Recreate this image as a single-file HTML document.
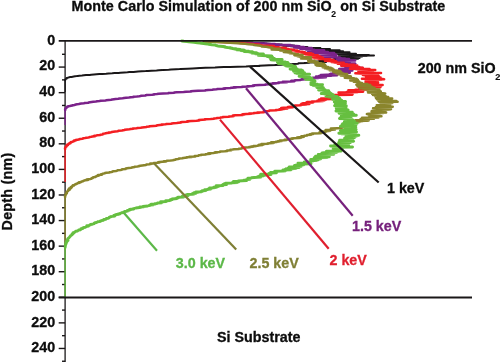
<!DOCTYPE html>
<html><head><meta charset="utf-8"><title>Monte Carlo Simulation</title>
<style>
html,body{margin:0;padding:0;background:#fff;}
body{width:500px;height:362px;overflow:hidden;}
svg{display:block;}
text{font-family:"Liberation Sans",Arial,Helvetica,sans-serif;font-weight:bold;font-size:14.3px;fill:#0d0d0d;stroke:#0d0d0d;stroke-width:0.3px;}
.sub{font-size:8.6px;stroke-width:0.1px;}
</style></head><body>
<svg width="500" height="362" viewBox="0 0 500 362">
<rect width="500" height="362" fill="#fff"/>
<text x="71.6" y="10.6" letter-spacing="0.03">Monte Carlo Simulation of 200 nm SiO</text>
<text x="331.3" y="16.8" class="sub">2</text>
<text x="445.2" y="10.6" text-anchor="end">on Si Substrate</text>
<g stroke="#1a1718" stroke-width="1.4">
<line x1="62" x2="65.1" y1="54.29" y2="54.29"/>
<line x1="58.7" x2="65.1" y1="67.08" y2="67.08"/>
<line x1="62" x2="65.1" y1="79.87" y2="79.87"/>
<line x1="58.7" x2="65.1" y1="92.66" y2="92.66"/>
<line x1="62" x2="65.1" y1="105.45" y2="105.45"/>
<line x1="58.7" x2="65.1" y1="118.24" y2="118.24"/>
<line x1="62" x2="65.1" y1="131.03" y2="131.03"/>
<line x1="58.7" x2="65.1" y1="143.82" y2="143.82"/>
<line x1="62" x2="65.1" y1="156.61" y2="156.61"/>
<line x1="58.7" x2="65.1" y1="169.40" y2="169.40"/>
<line x1="62" x2="65.1" y1="182.19" y2="182.19"/>
<line x1="58.7" x2="65.1" y1="194.98" y2="194.98"/>
<line x1="62" x2="65.1" y1="207.77" y2="207.77"/>
<line x1="58.7" x2="65.1" y1="220.56" y2="220.56"/>
<line x1="62" x2="65.1" y1="233.35" y2="233.35"/>
<line x1="58.7" x2="65.1" y1="246.14" y2="246.14"/>
<line x1="62" x2="65.1" y1="258.93" y2="258.93"/>
<line x1="58.7" x2="65.1" y1="271.72" y2="271.72"/>
<line x1="62" x2="65.1" y1="284.51" y2="284.51"/>
<line x1="58.7" x2="65.1" y1="297.30" y2="297.30"/>
<line x1="62" x2="65.1" y1="310.09" y2="310.09"/>
<line x1="58.7" x2="65.1" y1="322.88" y2="322.88"/>
<line x1="62" x2="65.1" y1="335.67" y2="335.67"/>
<line x1="58.7" x2="65.1" y1="348.46" y2="348.46"/>
<line x1="62" x2="65.1" y1="361.25" y2="361.25"/>
</g>
<g>
<text x="55.1" y="44.70" text-anchor="end">0</text>
<text x="55.1" y="70.34" text-anchor="end">20</text>
<text x="55.1" y="95.98" text-anchor="end">40</text>
<text x="55.1" y="121.62" text-anchor="end">60</text>
<text x="55.1" y="147.26" text-anchor="end">80</text>
<text x="55.1" y="172.90" text-anchor="end">100</text>
<text x="55.1" y="198.54" text-anchor="end">120</text>
<text x="55.1" y="224.18" text-anchor="end">140</text>
<text x="55.1" y="249.82" text-anchor="end">160</text>
<text x="55.1" y="275.46" text-anchor="end">180</text>
<text x="55.1" y="301.10" text-anchor="end">200</text>
<text x="55.1" y="326.74" text-anchor="end">220</text>
<text x="55.1" y="352.38" text-anchor="end">240</text>
</g>
<text transform="translate(12.3,230.4) rotate(-90)" textLength="77.6" lengthAdjust="spacing">Depth (nm)</text>
<line x1="65.1" x2="65.1" y1="40.9" y2="362" stroke="#1a1718" stroke-width="1.3"/>
<line x1="65.1" x2="65.1" y1="80.00" y2="91.90" stroke="#1a1718" stroke-width="1.4"/>
<polyline points="203.6,41.50 220.1,41.70 231.1,41.90 233.5,42.10 241.1,42.30 252.7,42.50 248.7,42.70 253.1,42.90 263.4,43.10 264.7,43.30 266.8,43.50 269.3,43.70 271.4,43.90 271.2,44.10 273.0,44.30 281.9,44.50 280.9,44.70 284.8,44.90 285.7,45.10 287.3,45.30 294.2,45.50 283.1,45.70 294.5,45.90 293.7,46.10 290.7,46.30 299.6,46.50 294.1,46.70 301.6,46.90 307.3,47.10 299.7,47.30 307.8,47.50 305.6,47.70 303.8,47.90 320.4,48.10 312.6,48.30 312.6,48.50 321.2,48.70 314.4,48.90 330.0,49.10 313.7,49.30 312.2,49.50 323.4,49.70 324.4,49.90 326.6,50.10 339.7,50.30 334.0,50.50 329.5,50.70 320.1,50.90 327.7,51.10 343.1,51.30 341.0,51.50 341.7,51.70 322.9,51.90 328.0,52.10 349.6,52.30 345.7,52.50 334.5,52.70 341.2,52.90 347.8,53.10 332.4,53.30 335.1,53.50 356.0,53.70 348.3,53.90 331.6,54.10 352.3,54.30 343.7,54.50 338.5,54.70 361.1,54.90 369.0,55.10 350.0,55.30 374.0,55.50 348.0,55.70 367.0,55.90 338.8,56.10 346.5,56.30 362.1,56.50 352.1,56.70 358.4,56.90 343.3,57.10 355.0,57.30 347.2,57.50 351.1,57.70 359.6,57.90 338.6,58.10 346.4,58.30 339.1,58.50 358.1,58.70 334.4,58.90 334.1,59.10 339.1,59.30 333.3,59.50 347.5,59.70 346.5,59.90 338.1,60.10 336.4,60.30 339.9,60.50 336.9,60.70 337.1,60.90 319.1,61.10 326.5,61.30 316.2,61.50 314.6,61.70 326.2,61.90 324.5,62.10 318.4,62.30 308.4,62.50 309.4,62.70 304.4,62.90 307.2,63.10 298.4,63.30 298.1,63.50 298.0,63.70 292.7,63.90 296.3,64.10 288.1,64.30 279.9,64.50 282.4,64.70 275.1,64.90 276.7,65.10 269.0,65.30 264.1,65.50 259.1,65.70 259.8,65.90 255.1,66.10 249.2,66.30 246.0,66.50 237.6,66.70 230.0,66.90 224.0,67.10 218.5,67.30 215.0,67.50 205.4,67.70 200.7,67.90 199.9,68.10 196.3,68.30 192.5,68.50 187.4,68.70 180.8,68.90 179.8,69.10 176.2,69.30 171.0,69.50 168.7,69.70 163.2,69.90 162.4,70.10 158.9,70.30 156.5,70.50 151.5,70.70 147.9,70.90 145.8,71.10 141.6,71.30 138.0,71.50 135.9,71.70 133.5,71.90 129.6,72.10 127.4,72.30 124.4,72.50 120.3,72.70 118.5,72.90 114.7,73.10 112.2,73.30 108.5,73.50 106.1,73.70 102.4,73.90 99.4,74.10 96.5,74.30 94.0,74.50 91.1,74.70 89.8,74.90 86.0,75.10 83.9,75.30 82.0,75.50 79.3,75.70 77.8,75.90 76.8,76.10 75.1,76.30 73.8,76.50 72.7,76.70 71.6,76.90 69.8,77.10 69.2,77.30 68.2,77.50 67.9,77.70 66.9,77.90 66.6,78.10 67.1,78.30 66.3,78.50 66.3,78.70 65.8,78.90 65.7,79.10 65.5,79.30 65.3,79.50 65.3,79.70 65.2,79.90 65.2,80.10 65.2,80.30" fill="none" stroke="#1a1718" stroke-width="2.0" stroke-linejoin="round" stroke-linecap="round"/>
<line x1="65.1" x2="65.1" y1="109.70" y2="125.00" stroke="#7b228a" stroke-width="1.4"/>
<polyline points="205.0,41.50 217.3,41.75 228.5,42.00 236.3,42.25 242.5,42.50 247.2,42.75 248.4,43.00 258.7,43.25 265.5,43.50 266.8,43.75 274.4,44.00 275.9,44.25 279.2,44.50 273.8,44.75 290.3,45.00 281.9,45.25 292.0,45.50 287.5,45.75 296.4,46.00 299.4,46.25 299.5,46.50 299.3,46.75 304.0,47.00 295.9,47.25 294.1,47.50 299.6,47.75 311.7,48.00 304.3,48.25 300.4,48.50 300.3,48.75 305.2,49.00 311.7,49.25 306.0,49.50 314.2,49.75 309.3,50.00 324.1,50.25 312.2,50.50 307.7,50.75 312.7,51.00 324.3,51.25 313.3,51.50 311.6,51.75 327.8,52.00 315.8,52.25 326.9,52.50 310.9,52.75 334.1,53.00 314.9,53.25 316.9,53.50 328.4,53.75 334.7,54.00 334.4,54.25 331.1,54.50 336.3,54.75 331.9,55.00 328.3,55.25 318.0,55.50 336.1,55.75 324.5,56.00 324.2,56.25 331.0,56.50 326.7,56.75 325.0,57.00 329.8,57.25 339.8,57.50 337.4,57.75 339.1,58.00 341.6,58.25 345.1,58.50 344.0,58.75 349.0,59.00 337.8,59.25 338.9,59.50 336.8,59.75 349.0,60.00 337.7,60.25 355.1,60.50 343.4,60.75 333.8,61.00 346.7,61.25 341.0,61.50 339.4,61.75 342.1,62.00 344.7,62.25 346.0,62.50 349.8,62.75 346.2,63.00 346.0,63.25 354.7,63.50 355.3,63.75 345.1,64.00 341.8,64.25 346.8,64.50 346.0,64.75 341.3,65.00 342.9,65.25 348.9,65.50 351.0,65.75 350.6,66.00 352.2,66.25 350.1,66.50 348.1,66.75 345.4,67.00 347.9,67.25 350.2,67.50 356.1,67.75 362.5,68.00 354.6,68.25 346.9,68.50 342.4,68.75 339.2,69.00 351.7,69.25 347.7,69.50 351.6,69.75 344.3,70.00 344.9,70.25 352.3,70.50 349.8,70.75 346.4,71.00 347.5,71.25 333.5,71.50 337.8,71.75 339.3,72.00 340.5,72.25 348.2,72.50 349.8,72.75 341.7,73.00 343.0,73.25 338.6,73.50 330.8,73.75 337.0,74.00 329.7,74.25 333.0,74.50 326.9,74.75 320.8,75.00 337.0,75.25 330.4,75.50 331.4,75.75 319.0,76.00 322.6,76.25 316.1,76.50 320.7,76.75 320.8,77.00 325.9,77.25 322.2,77.50 312.8,77.75 318.2,78.00 307.5,78.25 311.9,78.50 302.3,78.75 308.1,79.00 305.4,79.25 302.8,79.50 300.5,79.75 300.2,80.00 295.4,80.25 294.0,80.50 291.7,80.75 291.1,81.00 294.5,81.25 290.7,81.50 282.8,81.75 287.6,82.00 286.1,82.25 278.4,82.50 278.1,82.75 279.0,83.00 272.8,83.25 276.2,83.50 270.7,83.75 271.4,84.00 268.9,84.25 265.5,84.50 265.5,84.75 259.8,85.00 254.9,85.25 252.8,85.50 254.1,85.75 252.9,86.00 247.3,86.25 249.1,86.50 242.4,86.75 241.8,87.00 233.7,87.25 236.4,87.50 231.8,87.75 230.1,88.00 225.4,88.25 223.2,88.50 225.0,88.75 217.5,89.00 216.6,89.25 213.5,89.50 212.3,89.75 208.2,90.00 205.7,90.25 205.1,90.50 198.1,90.75 193.8,91.00 190.7,91.25 191.1,91.50 186.1,91.75 183.6,92.00 176.8,92.25 174.1,92.50 174.4,92.75 168.7,93.00 168.1,93.25 163.1,93.50 158.8,93.75 156.9,94.00 153.8,94.25 154.2,94.50 152.0,94.75 146.3,95.00 145.9,95.25 145.4,95.50 141.3,95.75 140.4,96.00 139.2,96.25 136.8,96.50 133.2,96.75 133.8,97.00 130.9,97.25 128.9,97.50 126.1,97.75 124.1,98.00 122.6,98.25 119.7,98.50 118.2,98.75 115.6,99.00 114.0,99.25 112.2,99.50 111.1,99.75 108.7,100.00 106.1,100.25 105.7,100.50 100.6,100.75 99.6,101.00 97.2,101.25 95.9,101.50 93.3,101.75 91.6,102.00 90.0,102.25 88.6,102.50 88.3,102.75 84.5,103.00 84.1,103.25 81.3,103.50 79.9,103.75 78.9,104.00 77.1,104.25 75.9,104.50 75.0,104.75 74.6,105.00 72.2,105.25 72.6,105.50 70.9,105.75 69.8,106.00 68.0,106.25 68.6,106.50 67.1,106.75 66.8,107.00 66.7,107.25 66.8,107.50 66.2,107.75 66.2,108.00 65.7,108.25 65.6,108.50 65.4,108.75 65.3,109.00 65.2,109.25 65.2,109.50 65.2,109.75 65.2,110.00" fill="none" stroke="#7b228a" stroke-width="2.6" stroke-linejoin="round" stroke-linecap="round"/>
<line x1="65.1" x2="65.1" y1="148.70" y2="182.00" stroke="#f41e22" stroke-width="1.4"/>
<polyline points="204.5,41.50 215.2,41.75 221.8,42.00 227.7,42.25 232.2,42.50 236.5,42.75 241.5,43.00 244.1,43.25 245.3,43.50 249.6,43.75 252.2,44.00 254.7,44.25 259.0,44.50 256.4,44.75 260.2,45.00 261.5,45.25 262.4,45.50 268.6,45.75 274.0,46.00 265.8,46.25 272.7,46.50 272.4,46.75 269.6,47.00 278.8,47.25 275.6,47.50 281.6,47.75 285.9,48.00 277.6,48.25 286.5,48.50 282.6,48.75 288.5,49.00 286.1,49.25 291.4,49.50 293.9,49.75 291.0,50.00 290.2,50.25 297.5,50.50 296.5,50.75 298.1,51.00 299.1,51.25 295.6,51.50 302.5,51.75 298.6,52.00 304.8,52.25 300.5,52.50 302.6,52.75 303.4,53.00 311.2,53.25 304.3,53.50 302.6,53.75 313.1,54.00 305.9,54.25 305.5,54.50 308.6,54.75 307.9,55.00 317.8,55.25 311.7,55.50 313.2,55.75 311.0,56.00 319.6,56.25 314.6,56.50 318.1,56.75 321.3,57.00 309.3,57.25 320.9,57.50 323.0,57.75 320.3,58.00 314.5,58.25 322.7,58.50 318.4,58.75 318.9,59.00 330.2,59.25 329.1,59.50 326.0,59.75 333.6,60.00 332.8,60.25 330.9,60.50 325.0,60.75 328.7,61.00 336.0,61.25 336.4,61.50 331.2,61.75 331.6,62.00 335.7,62.25 334.1,62.50 343.7,62.75 339.4,63.00 341.7,63.25 343.3,63.50 337.8,63.75 344.2,64.00 347.2,64.25 342.8,64.50 354.3,64.75 352.3,65.00 345.5,65.25 357.2,65.50 341.3,65.75 354.3,66.00 350.5,66.25 350.5,66.50 354.3,66.75 359.2,67.00 354.8,67.25 350.7,67.50 362.7,67.75 358.9,68.00 362.7,68.25 354.7,68.50 350.0,68.75 369.5,69.00 355.9,69.25 369.6,69.50 367.5,69.75 375.2,70.00 362.6,70.25 371.9,70.50 358.2,70.75 360.4,71.00 366.6,71.25 360.8,71.50 368.3,71.75 372.8,72.00 361.2,72.25 368.8,72.50 367.2,72.75 381.0,73.00 355.4,73.25 359.6,73.50 371.7,73.75 361.9,74.00 366.7,74.25 377.8,74.50 364.1,74.75 363.0,75.00 365.2,75.25 368.7,75.50 376.2,75.75 378.7,76.00 370.4,76.25 367.8,76.50 366.4,76.75 366.1,77.00 368.9,77.25 380.5,77.50 367.9,77.75 366.4,78.00 377.0,78.25 373.5,78.50 362.0,78.75 382.4,79.00 384.1,79.25 368.6,79.50 381.5,79.75 374.9,80.00 375.5,80.25 376.9,80.50 375.9,80.75 373.9,81.00 365.6,81.25 376.5,81.50 371.1,81.75 370.9,82.00 377.9,82.25 376.7,82.50 378.1,82.75 368.2,83.00 375.3,83.25 365.4,83.50 364.8,83.75 373.8,84.00 370.3,84.25 370.3,84.50 368.2,84.75 382.6,85.00 370.7,85.25 364.4,85.50 378.5,85.75 376.3,86.00 381.0,86.25 373.5,86.50 378.5,86.75 365.9,87.00 380.2,87.25 359.3,87.50 375.7,87.75 368.5,88.00 363.5,88.25 367.5,88.50 362.3,88.75 369.0,89.00 367.5,89.25 364.7,89.50 355.5,89.75 362.0,90.00 348.4,90.25 358.2,90.50 348.9,90.75 358.2,91.00 351.5,91.25 363.1,91.50 363.0,91.75 346.7,92.00 357.5,92.25 338.6,92.50 351.1,92.75 345.3,93.00 342.7,93.25 343.3,93.50 339.9,93.75 339.9,94.00 347.2,94.25 352.5,94.50 352.1,94.75 334.7,95.00 331.3,95.25 332.8,95.50 335.8,95.75 326.9,96.00 331.6,96.25 337.8,96.50 329.1,96.75 335.3,97.00 330.8,97.25 330.1,97.50 330.8,97.75 330.5,98.00 332.0,98.25 321.1,98.50 326.1,98.75 332.2,99.00 322.1,99.25 319.0,99.50 325.9,99.75 319.1,100.00 319.3,100.25 324.5,100.50 317.4,100.75 323.0,101.00 318.3,101.25 311.9,101.50 313.0,101.75 307.2,102.00 313.4,102.25 312.4,102.50 306.0,102.75 307.1,103.00 302.8,103.25 304.2,103.50 301.4,103.75 309.3,104.00 304.4,104.25 306.4,104.50 300.6,104.75 301.5,105.00 300.1,105.25 295.0,105.50 295.1,105.75 295.5,106.00 293.7,106.25 293.6,106.50 290.6,106.75 287.8,107.00 292.8,107.25 289.0,107.50 283.5,107.75 281.2,108.00 283.0,108.25 287.3,108.50 283.4,108.75 283.8,109.00 279.3,109.25 282.4,109.50 280.0,109.75 275.7,110.00 276.4,110.25 269.5,110.50 269.3,110.75 268.7,111.00 263.8,111.25 264.8,111.50 263.7,111.75 264.3,112.00 263.9,112.25 257.4,112.50 259.5,112.75 254.0,113.00 254.3,113.25 249.2,113.50 251.5,113.75 246.4,114.00 242.6,114.25 244.8,114.50 241.5,114.75 242.9,115.00 235.2,115.25 232.8,115.50 234.0,115.75 234.0,116.00 232.6,116.25 229.2,116.50 228.7,116.75 222.9,117.00 223.0,117.25 220.8,117.50 220.1,117.75 217.4,118.00 216.1,118.25 213.8,118.50 214.0,118.75 210.6,119.00 204.9,119.25 205.6,119.50 202.5,119.75 198.7,120.00 199.8,120.25 198.9,120.50 196.5,120.75 191.9,121.00 187.1,121.25 188.8,121.50 186.9,121.75 182.2,122.00 180.5,122.25 181.4,122.50 178.7,122.75 176.8,123.00 173.5,123.25 171.9,123.50 171.0,123.75 166.5,124.00 165.6,124.25 161.4,124.50 162.9,124.75 159.9,125.00 157.8,125.25 156.5,125.50 156.6,125.75 153.5,126.00 149.5,126.25 149.5,126.50 146.7,126.75 146.6,127.00 144.3,127.25 142.2,127.50 140.7,127.75 137.2,128.00 136.8,128.25 132.7,128.50 133.4,128.75 130.6,129.00 129.5,129.25 127.2,129.50 125.0,129.75 124.4,130.00 123.2,130.25 122.0,130.50 118.8,130.75 118.1,131.00 117.7,131.25 115.2,131.50 113.4,131.75 111.9,132.00 111.1,132.25 108.5,132.50 110.1,132.75 107.0,133.00 105.9,133.25 104.7,133.50 103.0,133.75 103.6,134.00 102.6,134.25 102.4,134.50 100.2,134.75 100.2,135.00 97.0,135.25 96.6,135.50 94.8,135.75 93.9,136.00 94.7,136.25 92.5,136.50 91.3,136.75 89.7,137.00 89.5,137.25 88.2,137.50 86.5,137.75 85.0,138.00 83.1,138.25 83.2,138.50 82.1,138.75 80.2,139.00 79.2,139.25 78.9,139.50 77.3,139.75 75.6,140.00 76.5,140.25 74.4,140.50 73.7,140.75 74.6,141.00 73.2,141.25 73.2,141.50 72.4,141.75 71.0,142.00 71.0,142.25 71.4,142.50 70.4,142.75 69.9,143.00 70.3,143.25 68.9,143.50 69.4,143.75 68.6,144.00 68.5,144.25 67.4,144.50 68.1,144.75 68.0,145.00 67.1,145.25 66.6,145.50 66.4,145.75 66.2,146.00 66.3,146.25 66.5,146.50 65.8,146.75 65.8,147.00 65.6,147.25 65.4,147.50 65.3,147.75 65.2,148.00 65.1,148.25 65.1,148.50 65.1,148.75 65.1,149.00" fill="none" stroke="#f41e22" stroke-width="2.6" stroke-linejoin="round" stroke-linecap="round"/>
<line x1="65.1" x2="65.1" y1="196.70" y2="250.00" stroke="#8a852c" stroke-width="1.4"/>
<polyline points="205.5,41.50 211.4,41.75 216.3,42.00 222.2,42.25 226.0,42.50 230.1,42.75 233.9,43.00 238.5,43.25 240.5,43.50 245.3,43.75 246.7,44.00 248.8,44.25 253.4,44.50 253.4,44.75 254.3,45.00 256.2,45.25 258.9,45.50 260.5,45.75 261.4,46.00 261.5,46.25 262.0,46.50 265.4,46.75 268.3,47.00 267.8,47.25 272.2,47.50 271.3,47.75 272.3,48.00 271.2,48.25 274.7,48.50 280.1,48.75 273.5,49.00 275.6,49.25 271.6,49.50 279.3,49.75 283.8,50.00 281.0,50.25 280.3,50.50 285.7,50.75 285.3,51.00 290.7,51.25 284.7,51.50 283.9,51.75 283.8,52.00 287.0,52.25 288.6,52.50 291.6,52.75 290.7,53.00 289.7,53.25 294.3,53.50 294.5,53.75 295.3,54.00 298.4,54.25 296.9,54.50 295.1,54.75 302.6,55.00 294.4,55.25 296.5,55.50 302.3,55.75 302.3,56.00 297.6,56.25 302.5,56.50 298.9,56.75 301.6,57.00 311.0,57.25 307.0,57.50 304.9,57.75 309.0,58.00 306.9,58.25 301.1,58.50 310.3,58.75 307.5,59.00 308.5,59.25 311.0,59.50 308.8,59.75 308.1,60.00 309.8,60.25 310.3,60.50 314.5,60.75 314.6,61.00 312.3,61.25 313.5,61.50 308.4,61.75 317.2,62.00 317.7,62.25 313.9,62.50 317.1,62.75 314.5,63.00 321.3,63.25 321.1,63.50 324.2,63.75 318.4,64.00 317.5,64.25 321.9,64.50 315.6,64.75 325.1,65.00 316.8,65.25 316.5,65.50 319.7,65.75 325.7,66.00 322.1,66.25 325.1,66.50 323.8,66.75 328.2,67.00 322.7,67.25 325.5,67.50 330.7,67.75 328.5,68.00 324.8,68.25 332.4,68.50 327.0,68.75 327.3,69.00 333.4,69.25 330.6,69.50 333.9,69.75 333.0,70.00 329.6,70.25 335.1,70.50 339.8,70.75 333.0,71.00 335.6,71.25 334.6,71.50 341.0,71.75 336.3,72.00 333.4,72.25 341.4,72.50 340.1,72.75 338.7,73.00 336.2,73.25 343.3,73.50 340.1,73.75 347.1,74.00 338.1,74.25 346.6,74.50 342.6,74.75 346.2,75.00 341.7,75.25 340.8,75.50 345.6,75.75 348.5,76.00 350.0,76.25 350.9,76.50 346.1,76.75 346.3,77.00 345.7,77.25 346.1,77.50 344.8,77.75 348.1,78.00 353.9,78.25 353.7,78.50 356.6,78.75 355.9,79.00 350.4,79.25 355.0,79.50 357.8,79.75 350.5,80.00 357.0,80.25 350.3,80.50 355.4,80.75 354.1,81.00 358.8,81.25 355.4,81.50 353.8,81.75 357.8,82.00 358.8,82.25 360.2,82.50 357.3,82.75 362.0,83.00 357.4,83.25 359.4,83.50 357.3,83.75 367.4,84.00 361.8,84.25 361.3,84.50 356.4,84.75 370.2,85.00 363.3,85.25 364.4,85.50 368.1,85.75 367.9,86.00 361.2,86.25 357.5,86.50 372.0,86.75 363.8,87.00 359.6,87.25 371.2,87.50 374.5,87.75 363.7,88.00 359.9,88.25 371.9,88.50 371.2,88.75 364.9,89.00 363.5,89.25 379.2,89.50 366.3,89.75 367.8,90.00 374.0,90.25 379.6,90.50 371.7,90.75 367.7,91.00 379.8,91.25 380.8,91.50 369.5,91.75 378.7,92.00 379.3,92.25 368.1,92.50 378.3,92.75 376.4,93.00 382.5,93.25 385.2,93.50 376.6,93.75 372.2,94.00 377.1,94.25 381.0,94.50 376.8,94.75 373.1,95.00 378.0,95.25 383.0,95.50 385.5,95.75 376.0,96.00 375.2,96.25 376.9,96.50 378.6,96.75 388.1,97.00 376.8,97.25 376.8,97.50 381.8,97.75 376.0,98.00 376.8,98.25 392.1,98.50 386.1,98.75 384.3,99.00 376.9,99.25 381.5,99.50 384.7,99.75 381.6,100.00 387.6,100.25 389.2,100.50 378.3,100.75 396.2,101.00 383.1,101.25 395.6,101.50 397.6,101.75 379.4,102.00 389.3,102.25 384.3,102.50 388.5,102.75 392.3,103.00 384.2,103.25 390.8,103.50 389.9,103.75 383.5,104.00 383.0,104.25 380.6,104.50 383.6,104.75 390.2,105.00 376.8,105.25 387.8,105.50 385.4,105.75 380.0,106.00 383.1,106.25 377.0,106.50 392.7,106.75 376.1,107.00 382.9,107.25 375.6,107.50 390.4,107.75 381.4,108.00 373.1,108.25 376.6,108.50 376.3,108.75 391.0,109.00 390.4,109.25 388.7,109.50 380.7,109.75 379.5,110.00 380.0,110.25 384.1,110.50 379.5,110.75 371.8,111.00 379.1,111.25 371.6,111.50 372.2,111.75 385.4,112.00 380.6,112.25 386.1,112.50 377.2,112.75 383.3,113.00 373.3,113.25 380.3,113.50 369.0,113.75 366.9,114.00 370.2,114.25 372.1,114.50 377.8,114.75 372.9,115.00 368.8,115.25 377.0,115.50 379.5,115.75 375.4,116.00 381.4,116.25 376.5,116.50 378.2,116.75 375.0,117.00 374.5,117.25 378.4,117.50 362.1,117.75 368.8,118.00 372.7,118.25 363.0,118.50 373.9,118.75 360.7,119.00 362.1,119.25 360.3,119.50 362.4,119.75 366.0,120.00 355.5,120.25 368.7,120.50 366.9,120.75 350.2,121.00 362.6,121.25 358.5,121.50 354.7,121.75 359.7,122.00 348.5,122.25 355.6,122.50 351.5,122.75 352.7,123.00 347.1,123.25 352.9,123.50 351.9,123.75 346.9,124.00 348.2,124.25 352.3,124.50 352.2,124.75 344.4,125.00 348.5,125.25 348.6,125.50 353.4,125.75 343.7,126.00 347.8,126.25 343.9,126.50 340.3,126.75 342.5,127.00 341.3,127.25 341.1,127.50 340.9,127.75 341.7,128.00 337.4,128.25 330.9,128.50 330.9,128.75 331.5,129.00 333.4,129.25 335.0,129.50 331.9,129.75 325.7,130.00 325.9,130.25 327.8,130.50 330.5,130.75 328.4,131.00 325.5,131.25 322.2,131.50 325.8,131.75 319.9,132.00 319.6,132.25 322.7,132.50 321.8,132.75 321.4,133.00 320.3,133.25 312.7,133.50 311.5,133.75 313.1,134.00 309.6,134.25 310.7,134.50 311.3,134.75 307.0,135.00 307.0,135.25 307.1,135.50 304.6,135.75 303.7,136.00 301.8,136.25 301.1,136.50 303.9,136.75 302.6,137.00 299.2,137.25 297.0,137.50 301.4,137.75 298.5,138.00 293.4,138.25 291.3,138.50 292.8,138.75 288.9,139.00 287.7,139.25 287.2,139.50 284.5,139.75 286.5,140.00 284.2,140.25 279.8,140.50 281.5,140.75 281.7,141.00 277.6,141.25 279.3,141.50 275.8,141.75 276.8,142.00 271.2,142.25 270.8,142.50 274.1,142.75 273.0,143.00 269.7,143.25 267.3,143.50 268.5,143.75 261.5,144.00 264.2,144.25 263.4,144.50 258.9,144.75 262.7,145.00 260.0,145.25 258.1,145.50 257.6,145.75 253.3,146.00 256.3,146.25 251.3,146.50 253.2,146.75 249.0,147.00 250.3,147.25 244.1,147.50 245.4,147.75 242.9,148.00 241.5,148.25 241.7,148.50 238.7,148.75 239.2,149.00 234.2,149.25 232.5,149.50 230.3,149.75 230.2,150.00 231.3,150.25 226.9,150.50 227.7,150.75 227.5,151.00 224.8,151.25 220.0,151.50 220.4,151.75 219.3,152.00 215.0,152.25 217.7,152.50 214.5,152.75 213.4,153.00 209.3,153.25 208.0,153.50 210.7,153.75 208.0,154.00 205.5,154.25 206.1,154.50 201.2,154.75 201.3,155.00 198.7,155.25 198.9,155.50 198.5,155.75 194.6,156.00 195.6,156.25 195.1,156.50 189.4,156.75 192.0,157.00 186.7,157.25 187.3,157.50 185.2,157.75 183.2,158.00 182.5,158.25 178.8,158.50 179.4,158.75 178.0,159.00 176.2,159.25 175.5,159.50 175.0,159.75 173.8,160.00 172.8,160.25 170.5,160.50 166.7,160.75 166.8,161.00 163.7,161.25 165.9,161.50 162.5,161.75 159.7,162.00 158.0,162.25 159.5,162.50 157.4,162.75 153.7,163.00 155.7,163.25 150.3,163.50 152.1,163.75 150.0,164.00 149.7,164.25 146.3,164.50 146.4,164.75 146.0,165.00 144.0,165.25 142.3,165.50 140.3,165.75 139.2,166.00 138.7,166.25 137.3,166.50 134.5,166.75 134.6,167.00 133.1,167.25 131.9,167.50 131.1,167.75 128.8,168.00 127.2,168.25 125.7,168.50 126.0,168.75 125.5,169.00 122.3,169.25 122.0,169.50 121.5,169.75 120.6,170.00 117.6,170.25 117.2,170.50 117.0,170.75 115.9,171.00 113.4,171.25 112.5,171.50 112.4,171.75 111.5,172.00 109.4,172.25 109.6,172.50 106.3,172.75 105.2,173.00 104.6,173.25 103.7,173.50 102.5,173.75 102.5,174.00 101.0,174.25 102.1,174.50 101.7,174.75 98.0,175.00 98.3,175.25 99.2,175.50 98.0,175.75 96.9,176.00 96.3,176.25 96.1,176.50 95.3,176.75 95.6,177.00 93.3,177.25 93.1,177.50 92.6,177.75 92.9,178.00 91.6,178.25 91.9,178.50 91.1,178.75 90.2,179.00 88.3,179.25 86.6,179.50 88.2,179.75 87.5,180.00 85.4,180.25 84.1,180.50 83.9,180.75 83.2,181.00 82.9,181.25 81.9,181.50 81.2,181.75 81.2,182.00 79.3,182.25 78.6,182.50 79.8,182.75 78.4,183.00 77.5,183.25 77.1,183.50 76.8,183.75 76.1,184.00 75.6,184.25 74.8,184.50 74.8,184.75 74.2,185.00 72.9,185.25 74.0,185.50 72.5,185.75 72.5,186.00 72.2,186.25 71.9,186.50 72.1,186.75 70.9,187.00 71.0,187.25 70.6,187.50 70.5,187.75 71.2,188.00 70.0,188.25 69.2,188.50 70.1,188.75 69.3,189.00 70.0,189.25 68.3,189.50 69.6,189.75 68.7,190.00 68.3,190.25 68.3,190.50 68.3,190.75 68.0,191.00 67.6,191.25 67.3,191.50 67.1,191.75 66.8,192.00 66.5,192.25 66.7,192.50 66.9,192.75 66.7,193.00 66.8,193.25 66.1,193.50 66.1,193.75 65.8,194.00 66.1,194.25 65.7,194.50 65.6,194.75 65.4,195.00 65.4,195.25 65.4,195.50 65.2,195.75 65.2,196.00 65.1,196.25 65.1,196.50 65.1,196.75 65.1,197.00" fill="none" stroke="#8a852c" stroke-width="2.6" stroke-linejoin="round" stroke-linecap="round"/>
<line x1="65.1" x2="65.1" y1="247.20" y2="297.00" stroke="#66bf40" stroke-width="1.4"/>
<polyline points="181.8,41.00 183.9,41.25 187.2,41.50 188.6,41.75 191.4,42.00 194.0,42.25 195.7,42.50 197.4,42.75 200.0,43.00 201.5,43.25 203.8,43.50 205.3,43.75 207.7,44.00 208.5,44.25 210.4,44.50 211.9,44.75 215.5,45.00 214.7,45.25 215.8,45.50 217.5,45.75 217.8,46.00 220.2,46.25 223.1,46.50 225.1,46.75 224.3,47.00 225.9,47.25 227.5,47.50 230.7,47.75 229.6,48.00 232.4,48.25 232.0,48.50 236.1,48.75 234.1,49.00 237.6,49.25 240.4,49.50 236.5,49.75 242.8,50.00 244.3,50.25 240.6,50.50 245.1,50.75 243.9,51.00 248.8,51.25 244.0,51.50 252.5,51.75 249.0,52.00 252.6,52.25 254.1,52.50 256.4,52.75 251.6,53.00 257.6,53.25 255.2,53.50 255.1,53.75 263.5,54.00 262.0,54.25 260.1,54.50 263.4,54.75 260.4,55.00 258.3,55.25 262.6,55.50 266.5,55.75 271.8,56.00 269.5,56.25 267.3,56.50 272.3,56.75 272.6,57.00 271.4,57.25 272.6,57.50 273.1,57.75 269.9,58.00 270.0,58.25 274.5,58.50 274.3,58.75 275.1,59.00 275.0,59.25 282.2,59.50 270.9,59.75 273.3,60.00 280.7,60.25 280.4,60.50 281.8,60.75 281.1,61.00 278.5,61.25 278.8,61.50 282.6,61.75 285.5,62.00 277.3,62.25 287.9,62.50 280.0,62.75 283.3,63.00 288.5,63.25 278.2,63.50 286.2,63.75 284.7,64.00 286.6,64.25 289.1,64.50 283.8,64.75 286.4,65.00 290.6,65.25 292.2,65.50 285.3,65.75 293.4,66.00 286.6,66.25 295.6,66.50 295.4,66.75 292.6,67.00 292.0,67.25 294.4,67.50 293.3,67.75 295.5,68.00 294.5,68.25 296.3,68.50 297.2,68.75 290.0,69.00 292.4,69.25 295.4,69.50 295.9,69.75 301.6,70.00 293.2,70.25 296.4,70.50 302.9,70.75 296.5,71.00 293.5,71.25 298.4,71.50 302.5,71.75 301.9,72.00 300.8,72.25 299.4,72.50 304.6,72.75 295.0,73.00 296.2,73.25 303.2,73.50 303.9,73.75 303.5,74.00 309.7,74.25 302.1,74.50 301.0,74.75 300.6,75.00 306.1,75.25 305.7,75.50 306.7,75.75 306.2,76.00 299.0,76.25 303.3,76.50 304.6,76.75 303.6,77.00 303.4,77.25 310.3,77.50 305.1,77.75 309.4,78.00 312.0,78.25 304.9,78.50 306.6,78.75 306.9,79.00 305.6,79.25 310.3,79.50 309.9,79.75 312.5,80.00 314.4,80.25 311.1,80.50 313.3,80.75 313.7,81.00 315.1,81.25 314.1,81.50 313.4,81.75 313.3,82.00 312.7,82.25 312.5,82.50 313.6,82.75 310.8,83.00 314.6,83.25 312.0,83.50 314.0,83.75 313.8,84.00 317.5,84.25 310.8,84.50 322.6,84.75 312.9,85.00 319.1,85.25 312.9,85.50 317.7,85.75 321.9,86.00 315.6,86.25 316.3,86.50 322.3,86.75 318.3,87.00 317.2,87.25 316.9,87.50 323.5,87.75 321.6,88.00 318.7,88.25 322.0,88.50 319.2,88.75 323.0,89.00 322.6,89.25 322.4,89.50 325.2,89.75 318.5,90.00 325.5,90.25 323.4,90.50 328.8,90.75 326.0,91.00 327.1,91.25 326.4,91.50 325.6,91.75 329.5,92.00 323.6,92.25 323.9,92.50 329.6,92.75 330.7,93.00 323.5,93.25 321.2,93.50 330.5,93.75 323.9,94.00 332.6,94.25 330.7,94.50 327.2,94.75 333.2,95.00 330.2,95.25 334.0,95.50 332.6,95.75 331.9,96.00 325.9,96.25 337.1,96.50 327.8,96.75 330.1,97.00 333.4,97.25 335.5,97.50 338.6,97.75 339.6,98.00 337.4,98.25 338.5,98.50 332.4,98.75 337.6,99.00 332.4,99.25 335.9,99.50 340.9,99.75 335.9,100.00 341.7,100.25 334.7,100.50 337.6,100.75 337.4,101.00 336.8,101.25 345.6,101.50 339.2,101.75 334.2,102.00 335.0,102.25 336.0,102.50 340.6,102.75 345.5,103.00 345.5,103.25 336.6,103.50 338.0,103.75 335.2,104.00 337.5,104.25 336.2,104.50 337.8,104.75 344.1,105.00 339.9,105.25 337.6,105.50 334.5,105.75 346.4,106.00 344.0,106.25 341.8,106.50 343.4,106.75 344.0,107.00 344.6,107.25 342.8,107.50 340.4,107.75 345.3,108.00 346.2,108.25 336.2,108.50 344.8,108.75 346.2,109.00 343.0,109.25 342.2,109.50 344.5,109.75 348.2,110.00 345.5,110.25 346.9,110.50 339.9,110.75 335.9,111.00 347.8,111.25 340.4,111.50 345.8,111.75 339.0,112.00 352.3,112.25 343.0,112.50 351.0,112.75 340.7,113.00 339.0,113.25 343.5,113.50 343.9,113.75 353.7,114.00 342.5,114.25 353.6,114.50 342.7,114.75 348.4,115.00 356.4,115.25 349.2,115.50 341.3,115.75 345.3,116.00 349.1,116.25 351.4,116.50 340.9,116.75 344.5,117.00 343.6,117.25 344.9,117.50 345.8,117.75 340.6,118.00 348.3,118.25 339.4,118.50 348.5,118.75 344.7,119.00 348.1,119.25 347.1,119.50 352.7,119.75 352.9,120.00 344.8,120.25 349.3,120.50 345.5,120.75 354.5,121.00 348.2,121.25 354.6,121.50 344.3,121.75 348.0,122.00 354.3,122.25 354.4,122.50 345.5,122.75 347.0,123.00 357.3,123.25 353.0,123.50 342.5,123.75 353.0,124.00 352.1,124.25 342.0,124.50 347.1,124.75 348.3,125.00 356.0,125.25 350.0,125.50 347.0,125.75 342.5,126.00 340.5,126.25 352.3,126.50 353.1,126.75 348.5,127.00 355.9,127.25 344.0,127.50 350.3,127.75 350.7,128.00 347.9,128.25 346.6,128.50 353.2,128.75 347.7,129.00 353.2,129.25 356.2,129.50 354.9,129.75 346.0,130.00 350.4,130.25 340.3,130.50 355.7,130.75 356.0,131.00 344.9,131.25 344.7,131.50 350.7,131.75 356.6,132.00 348.5,132.25 352.4,132.50 354.1,132.75 350.7,133.00 338.8,133.25 354.9,133.50 341.3,133.75 349.0,134.00 350.0,134.25 355.3,134.50 348.5,134.75 349.9,135.00 358.9,135.25 354.1,135.50 350.7,135.75 356.8,136.00 351.8,136.25 345.9,136.50 351.2,136.75 350.5,137.00 348.1,137.25 354.7,137.50 346.6,137.75 353.2,138.00 344.5,138.25 346.5,138.50 346.3,138.75 349.3,139.00 353.0,139.25 345.2,139.50 347.7,139.75 346.2,140.00 339.5,140.25 345.6,140.50 352.8,140.75 353.5,141.00 353.7,141.25 339.3,141.50 348.6,141.75 343.0,142.00 341.4,142.25 350.5,142.50 338.6,142.75 347.3,143.00 348.9,143.25 345.5,143.50 341.3,143.75 348.7,144.00 342.6,144.25 346.3,144.50 334.7,144.75 347.5,145.00 336.3,145.25 348.2,145.50 342.4,145.75 330.5,146.00 348.9,146.25 346.2,146.50 345.8,146.75 352.6,147.00 333.8,147.25 337.1,147.50 336.6,147.75 342.7,148.00 333.1,148.25 341.0,148.50 333.3,148.75 335.9,149.00 342.1,149.25 334.1,149.50 340.7,149.75 336.2,150.00 340.7,150.25 334.9,150.50 332.2,150.75 341.3,151.00 326.6,151.25 338.4,151.50 326.1,151.75 336.3,152.00 330.3,152.25 336.8,152.50 323.9,152.75 322.0,153.00 329.7,153.25 331.3,153.50 326.1,153.75 321.0,154.00 333.9,154.25 318.2,154.50 319.4,154.75 329.1,155.00 320.6,155.25 326.6,155.50 323.6,155.75 327.7,156.00 315.5,156.25 325.2,156.50 329.4,156.75 319.5,157.00 317.8,157.25 327.3,157.50 314.1,157.75 317.0,158.00 318.1,158.25 314.1,158.50 320.9,158.75 319.1,159.00 318.2,159.25 310.6,159.50 313.8,159.75 318.3,160.00 317.0,160.25 314.2,160.50 313.7,160.75 311.2,161.00 310.8,161.25 310.9,161.50 309.7,161.75 304.2,162.00 306.8,162.25 305.1,162.50 306.3,162.75 310.6,163.00 297.9,163.25 304.1,163.50 311.1,163.75 301.4,164.00 300.2,164.25 298.8,164.50 304.0,164.75 298.8,165.00 295.2,165.25 294.3,165.50 299.6,165.75 294.7,166.00 301.3,166.25 294.4,166.50 299.4,166.75 289.0,167.00 295.5,167.25 299.2,167.50 289.1,167.75 288.2,168.00 296.4,168.25 294.9,168.50 290.2,168.75 285.7,169.00 285.0,169.25 287.7,169.50 291.2,169.75 282.8,170.00 283.1,170.25 285.1,170.50 285.7,170.75 282.9,171.00 274.6,171.25 275.2,171.50 277.3,171.75 275.7,172.00 275.9,172.25 270.4,172.50 276.6,172.75 270.2,173.00 270.9,173.25 269.1,173.50 268.3,173.75 271.0,174.00 260.6,174.25 271.1,174.50 262.1,174.75 267.7,175.00 263.6,175.25 263.8,175.50 263.8,175.75 259.3,176.00 260.2,176.25 260.8,176.50 257.5,176.75 261.0,177.00 257.1,177.25 254.0,177.50 251.4,177.75 251.4,178.00 247.8,178.25 249.7,178.50 248.3,178.75 250.0,179.00 250.0,179.25 246.7,179.50 245.9,179.75 245.5,180.00 243.8,180.25 246.8,180.50 242.2,180.75 238.2,181.00 239.3,181.25 233.3,181.50 239.0,181.75 234.0,182.00 238.1,182.25 237.5,182.50 231.9,182.75 231.8,183.00 225.5,183.25 226.0,183.50 224.8,183.75 223.8,184.00 223.0,184.25 226.7,184.50 222.8,184.75 223.9,185.00 221.8,185.25 223.3,185.50 216.0,185.75 218.8,186.00 219.4,186.25 218.4,186.50 216.5,186.75 217.4,187.00 213.6,187.25 215.8,187.50 213.1,187.75 209.4,188.00 209.9,188.25 211.7,188.50 209.3,188.75 210.9,189.00 207.5,189.25 208.0,189.50 204.6,189.75 205.3,190.00 204.7,190.25 206.1,190.50 202.0,190.75 203.6,191.00 202.8,191.25 200.8,191.50 201.5,191.75 195.7,192.00 198.4,192.25 196.4,192.50 193.9,192.75 194.1,193.00 196.0,193.25 192.6,193.50 192.0,193.75 194.1,194.00 191.8,194.25 187.0,194.50 186.2,194.75 185.5,195.00 185.4,195.25 188.3,195.50 186.0,195.75 182.4,196.00 183.8,196.25 182.4,196.50 184.8,196.75 183.8,197.00 177.9,197.25 178.0,197.50 178.5,197.75 176.4,198.00 176.1,198.25 177.2,198.50 174.8,198.75 172.2,199.00 171.1,199.25 172.6,199.50 170.2,199.75 171.6,200.00 169.6,200.25 170.1,200.50 165.6,200.75 167.9,201.00 166.9,201.25 166.3,201.50 160.5,201.75 163.0,202.00 161.4,202.25 160.8,202.50 161.9,202.75 157.4,203.00 157.7,203.25 157.1,203.50 154.7,203.75 155.6,204.00 151.0,204.25 153.8,204.50 153.6,204.75 149.9,205.00 150.4,205.25 149.0,205.50 148.8,205.75 147.7,206.00 145.3,206.25 142.9,206.50 144.0,206.75 139.6,207.00 141.3,207.25 139.5,207.50 137.5,207.75 135.8,208.00 134.7,208.25 133.5,208.50 133.0,208.75 133.9,209.00 131.1,209.25 129.4,209.50 130.8,209.75 130.1,210.00 129.3,210.25 127.3,210.50 128.4,210.75 127.0,211.00 126.6,211.25 124.6,211.50 125.1,211.75 123.7,212.00 124.5,212.25 123.7,212.50 121.5,212.75 121.4,213.00 120.3,213.25 119.3,213.50 120.3,213.75 118.1,214.00 119.2,214.25 116.0,214.50 115.1,214.75 116.2,215.00 115.1,215.25 113.7,215.50 113.6,215.75 114.9,216.00 112.9,216.25 111.8,216.50 110.3,216.75 109.7,217.00 109.1,217.25 108.9,217.50 109.2,217.75 109.2,218.00 108.4,218.25 106.2,218.50 105.9,218.75 105.9,219.00 105.9,219.25 103.8,219.50 103.4,219.75 102.9,220.00 103.4,220.25 101.6,220.50 100.4,220.75 101.0,221.00 100.7,221.25 99.3,221.50 97.6,221.75 97.4,222.00 97.2,222.25 96.6,222.50 94.9,222.75 94.4,223.00 93.9,223.25 94.0,223.50 94.2,223.75 93.3,224.00 92.4,224.25 90.4,224.50 89.8,224.75 90.6,225.00 89.5,225.25 88.9,225.50 86.7,225.75 88.7,226.00 87.2,226.25 86.6,226.50 86.2,226.75 85.8,227.00 85.5,227.25 83.6,227.50 82.7,227.75 83.0,228.00 83.2,228.25 82.9,228.50 80.9,228.75 81.4,229.00 80.5,229.25 80.2,229.50 80.6,229.75 78.6,230.00 78.6,230.25 78.3,230.50 77.1,230.75 77.5,231.00 75.7,231.25 76.3,231.50 75.2,231.75 74.7,232.00 74.2,232.25 74.5,232.50 73.1,232.75 73.7,233.00 73.6,233.25 72.7,233.50 72.1,233.75 73.2,234.00 71.9,234.25 72.1,234.50 71.8,234.75 72.0,235.00 71.3,235.25 70.6,235.50 70.3,235.75 70.6,236.00 70.0,236.25 70.1,236.50 69.7,236.75 69.4,237.00 69.6,237.25 69.3,237.50 68.9,237.75 68.9,238.00 68.3,238.25 67.9,238.50 67.6,238.75 67.7,239.00 67.6,239.25 67.9,239.50 67.4,239.75 67.3,240.00 67.5,240.25 68.1,240.50 67.0,240.75 66.6,241.00 67.4,241.25 66.5,241.50 66.7,241.75 66.3,242.00 66.2,242.25 66.2,242.50 66.5,242.75 65.8,243.00 66.1,243.25 65.8,243.50 66.0,243.75 65.7,244.00 65.7,244.25 65.9,244.50 65.4,244.75 65.5,245.00 65.4,245.25 65.5,245.50 65.4,245.75 65.3,246.00 65.3,246.25 65.3,246.50 65.3,246.75 65.2,247.00 65.2,247.25 65.2,247.50" fill="none" stroke="#66bf40" stroke-width="2.8" stroke-linejoin="round" stroke-linecap="round"/>
<line x1="58.7" x2="472" y1="40.9" y2="40.9" stroke="#1a1718" stroke-width="1.8"/>
<line x1="58.7" x2="472" y1="297.40" y2="297.40" stroke="#1a1718" stroke-width="2.0"/>
<line x1="250" y1="66.6" x2="378.7" y2="182.5" stroke="#1a1718" stroke-width="2.2"/>
<line x1="246" y1="88.2" x2="352.7" y2="215.8" stroke="#76217c" stroke-width="2.2"/>
<line x1="220" y1="119.6" x2="328.7" y2="248.7" stroke="#e01f2e" stroke-width="2.2"/>
<line x1="154.2" y1="163.6" x2="236.2" y2="249.5" stroke="#7f7f35" stroke-width="2.2"/>
<line x1="124" y1="213" x2="157" y2="250.7" stroke="#5cb848" stroke-width="2.2"/>
<text x="417.7" y="73">200 nm SiO</text>
<text x="495.2" y="79.9" class="sub" style="font-size:9.2px">2</text>
<text x="387" y="192.5">1 keV</text>
<text x="352" y="230.8" style="fill:#76217c;stroke:#76217c">1.5 keV</text>
<text x="329.5" y="265" style="fill:#e01f2e;stroke:#e01f2e">2 keV</text>
<text x="249.5" y="268" style="fill:#7f7f35;stroke:#7f7f35">2.5 keV</text>
<text x="175.8" y="268" style="fill:#5cb848;stroke:#5cb848">3.0 keV</text>
<text x="217" y="342">Si Substrate</text>
</svg>
</body></html>
